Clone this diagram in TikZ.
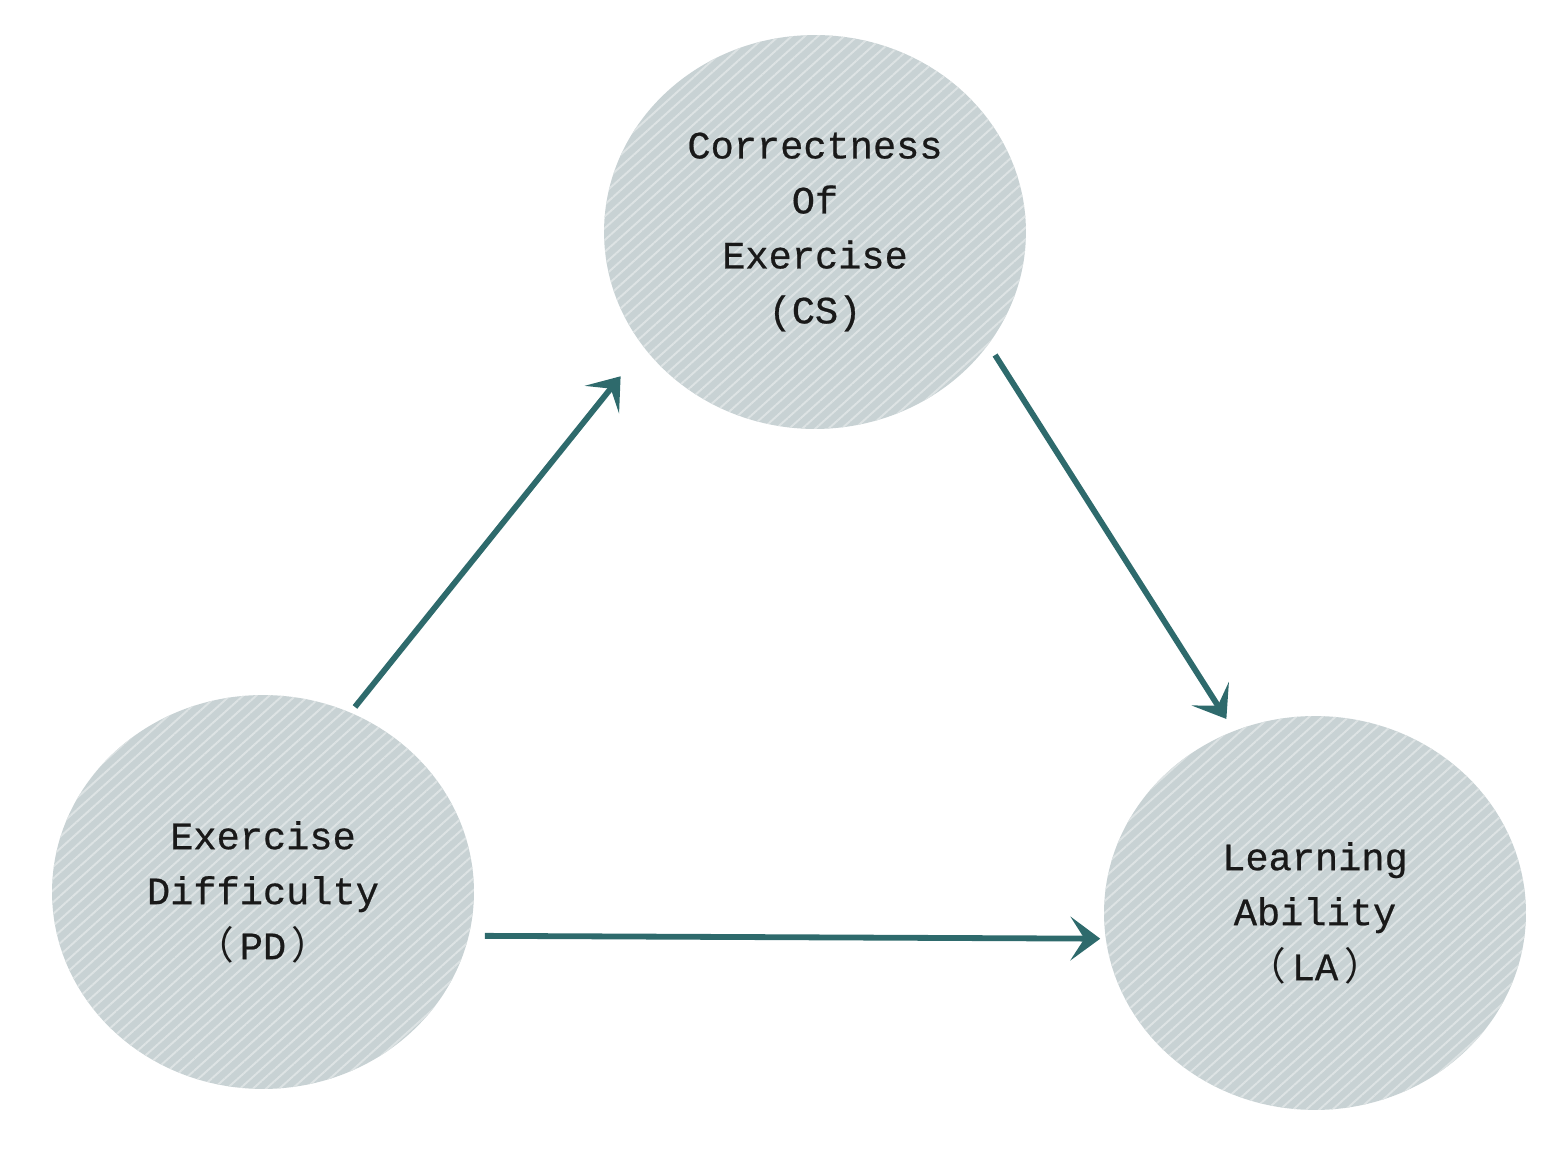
\documentclass[tikz,border=0pt]{standalone}
\usepackage{fontspec}
\setmonofont{Liberation Mono}[FakeBold=0.6]
\newfontfamily\cjkf{Noto Sans CJK SC}
\usetikzlibrary{shapes.geometric,arrows.meta,patterns.meta}
\definecolor{fillcol}{HTML}{C8D2D4}
\definecolor{stripecol}{HTML}{DDE3E4}
\definecolor{arrcol}{HTML}{2E6A6C}
\tikzset{
  bubble/.style={ellipse, minimum width=8.44cm, minimum height=7.88cm, inner sep=0pt,
    fill=fillcol, postaction={pattern={Lines[angle=42,distance=5pt,line width=1.1pt]}, pattern color=stripecol},
    align=center, font=\ttfamily\fontsize{22}{31.3}\selectfont, text=black!90},
  link/.style={draw=arrcol, line width=3.3pt, -{Stealth[length=17pt,width=25pt,inset=8pt]}}
}
\begin{document}
\begin{tikzpicture}[x=0.02cm,y=-0.02cm]
\useasboundingbox (0,0) rectangle (1560,1151);
\node[bubble] (cs) at (815,232) {Correctness\\Of\\Exercise\\(CS)};
\node[bubble] (pd) at (263,892) {Exercise\\Difficulty\\{\cjkf （}\hspace{0.15em}PD\hspace{0.15em}{\cjkf ）}};
\node[bubble] (la) at (1315,913) {Learning\\Ability\\{\cjkf （}\hspace{0.15em}LA\hspace{0.15em}{\cjkf ）}};
\draw[link, shorten <=4pt, shorten >=21pt] (pd.64.5) -- (cs.214.6);
\draw[link, shorten <=7pt, shorten >=8pt] (cs.-33.3) -- (la.114);
\draw[link, shorten <=9pt, shorten >=3pt] (pd.-12.3) -- (la.187.4);
\end{tikzpicture}
\end{document}
